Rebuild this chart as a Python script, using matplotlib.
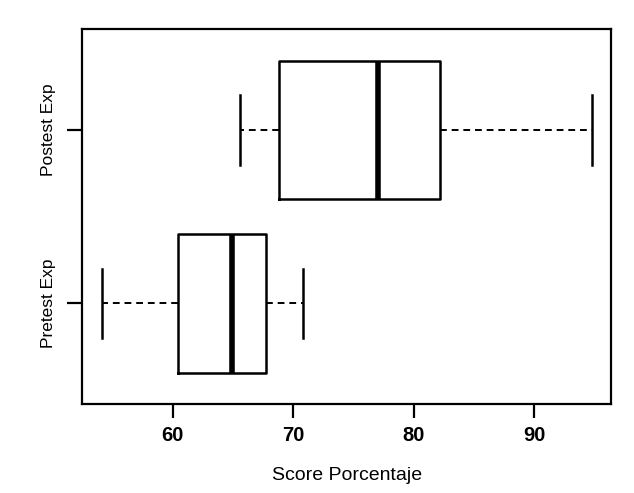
import matplotlib
matplotlib.use("Agg")
import matplotlib.pyplot as plt

# boxplot summary values
groups = ["Pretest Exp", "Postest Exp"]
whislo = [54.1, 65.6]
q1 = [60.4, 68.8]
med = [64.9, 77.0]
q3 = [67.7, 82.2]
whishi = [70.8, 94.8]
xticks = [60, 70, 80, 90]

plt.rcParams["font.family"] = ["Liberation Sans", "DejaVu Sans"]

stats = []
for i, name in enumerate(groups):
    stats.append({"label": name, "whislo": whislo[i], "q1": q1[i], "med": med[i],
                  "q3": q3[i], "whishi": whishi[i], "fliers": []})

fig = plt.figure(figsize=(6.34, 4.93), dpi=100)
ax = fig.add_axes([0.1298, 0.1805, 0.9645 - 0.1298, 0.9406 - 0.1805])

ax.bxp(stats, positions=[1, 2], orientation="horizontal", widths=0.8,
       showfliers=False, capwidths=0.4,
       boxprops=dict(color="black", linewidth=1.8),
       medianprops=dict(color="black", linewidth=4),
       whiskerprops=dict(color="black", linewidth=1.4, linestyle=(0, (3.5, 2.5))),
       capprops=dict(color="black", linewidth=1.8))

lo = min(whislo)
hi = max(whishi)
pad = (hi - lo) * 0.04
ax.set_xlim(lo - pad, hi + pad)
ax.set_ylim(0.42, 2.58)

ax.set_xticks(xticks)
ax.set_xticklabels([str(t) for t in xticks], fontsize=14.5, fontweight="bold")
ax.set_yticks([1, 2])
ax.set_yticklabels(groups, fontsize=12.5, rotation=90, va="center")
ax.tick_params(axis="x", length=10, width=1.6, pad=6)
ax.tick_params(axis="y", length=11, width=1.6, pad=8)
ax.set_xlabel("Score Porcentaje", fontsize=14, labelpad=16)

for s in ax.spines.values():
    s.set_linewidth(1.6)

fig.savefig("out.png", dpi=100)
